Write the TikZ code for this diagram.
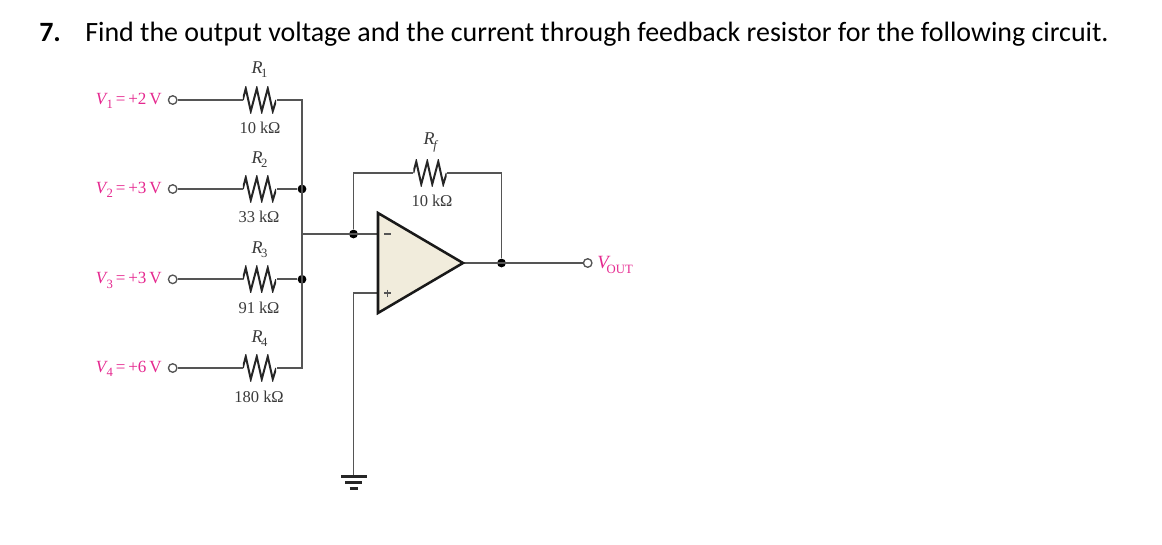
\documentclass[tikz,border=0pt]{standalone}
\usepackage{fontspec}
\setmainfont{Liberation Serif}
\newfontfamily\titlefont{Carlito}
\definecolor{pink}{HTML}{E5288F}
\definecolor{wire}{HTML}{555555}
\definecolor{ink}{HTML}{3A3A3A}
\definecolor{amp}{HTML}{F1ECDC}
\tikzset{
  wire/.style={draw=wire,line width=1.45pt},
  res/.style={inner sep=0pt,minimum width=25.1pt,minimum height=20pt,
    path picture={\draw[black!85,line width=1.5pt,line join=miter]
      (path picture bounding box.west) -- ++(2.25pt,8.6pt) -- ++(3.75pt,-17pt) -- ++(4.5pt,17pt) -- ++(3.75pt,-17pt) -- ++(4.5pt,17pt) -- ++(3.75pt,-17pt) -- (path picture bounding box.east);}},
  term/.style={circle,draw=wire,fill=white,line width=1pt,inner sep=0pt,minimum size=6.4pt},
  dot/.style={circle,fill=black,inner sep=0pt,minimum size=6.6pt},
  lab/.style={inner sep=0pt,text=ink,font=\fontsize{12.4}{14}\selectfont},
  rlab/.style={inner sep=0pt,text=ink,font=\fontsize{13.5}{14}\selectfont},
  vlab/.style={inner sep=0pt,text=pink,font=\fontsize{12.8}{14}\selectfont,anchor=east},
  gbar/.style={black!85,line width=2.4pt},
}
\newcommand{\ital}[1]{\textit{#1}}
\newcommand{\subs}[1]{\kern-.08em\raisebox{-.25em}{\fontsize{9.5}{10}\selectfont #1}}
\newcommand{\gap}{\kern.17em}
\begin{document}
\begin{tikzpicture}[x=0.75pt,y=-0.75pt]
\useasboundingbox (0,0) rectangle (1162,544);
\node[anchor=base west,inner sep=0pt,font=\titlefont\fontsize{20.97}{24}\selectfont,text=black] (ttl) at (39,41) {\textbf{7.}};
\node[anchor=base west,inner sep=0pt,font=\titlefont\fontsize{20.97}{24}\selectfont,text=black] (ttl2) at (85,41) {Find the output voltage and the current through feedback resistor for the following circuit.};
% inputs
\node[term] (t1) at (172.7,100) {};
\node[term] (t2) at (172.7,189) {};
\node[term] (t3) at (172.7,279.3) {};
\node[term] (t4) at (172.7,368) {};
\node[res] (r1) at (259.5,100) {};
\node[res] (r2) at (259.5,189) {};
\node[res] (r3) at (259.5,279.3) {};
\node[res] (r4) at (259.5,368) {};
\node[vlab] (v1) at (162,101) {\ital{V}\subs{1}\gap=\gap+2\gap V};
\node[vlab] (v2) at (162,190) {\ital{V}\subs{2}\gap=\gap+3\gap V};
\node[vlab] (v3) at (162,280.3) {\ital{V}\subs{3}\gap=\gap+3\gap V};
\node[vlab] (v4) at (162,369) {\ital{V}\subs{4}\gap=\gap+6\gap V};
\node[rlab] (n1) at (259.5,69.5) {\ital{R}\subs{1}};
\node[rlab] (n2) at (259.5,159.5) {\ital{R}\subs{2}};
\node[rlab] (n3) at (259.5,249.5) {\ital{R}\subs{3}};
\node[rlab] (n4) at (259.5,338.5) {\ital{R}\subs{4}};
\node[lab] (k1) at (260,127.5) {10 k\kern-.02emΩ};
\node[lab] (k2) at (259,216.5) {33 k\kern-.02emΩ};
\node[lab] (k3) at (259,307.5) {91 k\kern-.02emΩ};
\node[lab] (k4) at (259,396.5) {180 k\kern-.02emΩ};
% nodes on the bus
\coordinate (c1) at (302,100);
\node[dot] (j2) at (302,189) {};
\coordinate (jm) at (302,234);
\node[dot] (j3) at (302,279.3) {};
\coordinate (c4) at (302,368);
\node[dot] (j5) at (353.5,234) {};
\coordinate (inm) at (378,234);
\coordinate (inp) at (378,293);
\coordinate (cp) at (353.5,293);
\coordinate (gnd) at (353.5,476);
\coordinate (cf1) at (353.5,173);
\coordinate (cf2) at (501.5,173);
\node[res] (rf) at (430,173) {};
\node[dot] (j6) at (501.5,263) {};
\node[term] (tout) at (587.7,263) {};
\coordinate (tip) at (463,263);
\node[rlab] (nf) at (431,142.5) {\ital{R}\subs{\textit{f}}};
\node[lab] (kf) at (432,201) {10 k\kern-.02emΩ};
\node[inner sep=0pt,anchor=west,text=pink,font=\fontsize{14}{15}\selectfont] (vout) at (597,265) {\ital{V}\kern-.12em\subs{OUT}};
% wires
\draw[wire] (t1) -- (r1.west);
\draw[wire] (t2) -- (r2.west);
\draw[wire] (t3) -- (r3.west);
\draw[wire] (t4) -- (r4.west);
\draw[wire,line join=miter] (r1.east) -- (c1) -- (c4) -- (r4.east);
\draw[wire] (r2.east) -- (j2);
\draw[wire] (r3.east) -- (j3);
\draw[wire] (jm) -- (inm);
\draw[wire] (j5) -- (cf1) -- (rf.west);
\draw[wire] (rf.east) -- (cf2) -- (j6);
\draw[wire] (inp) -- (cp) -- (gnd);
\draw[wire] (tip) -- (tout);
% op amp
\draw[black!90,line width=1.9pt,fill=amp,line join=miter] (378,213) coordinate (a1) -- (463,263) -- (378,313) coordinate (a2) -- cycle;
\draw[wire,line width=.9pt] (384,234) -- (391,234);
\draw[wire,line width=.9pt] (384,293) -- (391,293) (387.5,289.5) -- (387.5,296.5);
% ground
\draw[gbar] (341,476.3) -- (366.5,476.3);
\draw[gbar] (345,482.3) -- (362,482.3);
\draw[gbar] (349.5,488.3) -- (358,488.3);
\end{tikzpicture}
\end{document}
